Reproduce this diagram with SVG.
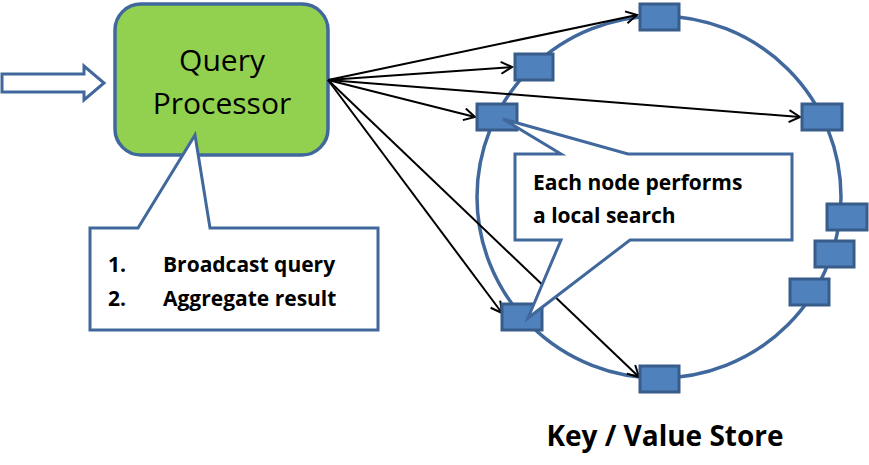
<svg xmlns="http://www.w3.org/2000/svg" width="869" height="465" viewBox="0 0 869 465">
<defs>
<marker id="ah" markerWidth="14" markerHeight="14" refX="12" refY="7" orient="auto" markerUnits="userSpaceOnUse">
<path d="M1,1 L12,7 L1,13" fill="none" stroke="#000" stroke-width="2"/>
</marker>
<style>
.n{fill:#4F81BD;stroke:#385D8A;stroke-width:3}
.c{fill:#fff;stroke:#41689C;stroke-width:3;stroke-linejoin:miter}
.a{stroke:#000;stroke-width:2;fill:none;marker-end:url(#ah)}
text{font-family:"Open Sans","Liberation Sans",sans-serif;fill:#000}
</style>
</defs>
<rect width="869" height="465" fill="#fff"/>
<g id="input-arrow"><path d="M2,74 H84 V66 L104,83 L84,100 V92 H2 Z" fill="#fff" stroke="#41689C" stroke-width="3"/></g>
<g id="ring"><ellipse cx="659" cy="197" rx="182" ry="181" fill="none" stroke="#41689C" stroke-width="3.5"/></g>
<g id="query-processor">
<rect x="115" y="4" width="213" height="151" rx="26" fill="#92D050" stroke="#41689C" stroke-width="3.5"/>
<text x="222" y="71" font-size="30" text-anchor="middle">Query</text>
<text x="222" y="114" font-size="30" text-anchor="middle">Processor</text>
</g>
<g id="callout-qp">
<path class="c" d="M90,228 H138 L195,135 L210,228 H378 V330 H90 Z"/>
<text x="108" y="272" font-size="21" font-weight="bold">1.</text>
<text x="163" y="272" font-size="21" font-weight="bold">Broadcast query</text>
<text x="108" y="306" font-size="21" font-weight="bold">2.</text>
<text x="163" y="306" font-size="21" font-weight="bold">Aggregate result</text>
</g>
<g id="connectors">
<line class="a" x1="328" y1="80" x2="637" y2="15"/>
<line class="a" x1="328" y1="80" x2="512" y2="67"/>
<line class="a" x1="328" y1="80" x2="800" y2="117"/>
<line class="a" x1="328" y1="80" x2="475" y2="117"/>
<line class="a" x1="328" y1="80" x2="502" y2="313"/>
<line class="a" x1="328" y1="80" x2="639" y2="377"/>
</g>
<g id="nodes">
<rect id="n1" class="n" x="640" y="4" width="39" height="26"/>
<rect id="n2" class="n" x="515" y="54" width="38" height="26"/>
<rect id="n3" class="n" x="477" y="104" width="40" height="26"/>
<rect id="n4" class="n" x="802" y="104" width="40" height="26"/>
<rect id="n5" class="n" x="827" y="204" width="40" height="26"/>
<rect id="n6" class="n" x="815" y="241" width="39" height="26"/>
<rect id="n7" class="n" x="790" y="279" width="39" height="26"/>
<rect id="n8" class="n" x="502" y="304" width="40" height="26"/>
<rect id="n9" class="n" x="640" y="366" width="39" height="26"/>
</g>
<g id="callout-node">
<path class="c" d="M515,154 H561 L503,119 L628,154 H792 V240 H630 L528,318 L561,240 H515 Z"/>
<text x="533" y="190" font-size="21" font-weight="bold">Each node performs</text>
<text x="533" y="223" font-size="21" font-weight="bold">a local search</text>
</g>
<g id="title"><text x="665" y="446" font-size="28" font-weight="bold" text-anchor="middle">Key / Value Store</text></g>
</svg>
